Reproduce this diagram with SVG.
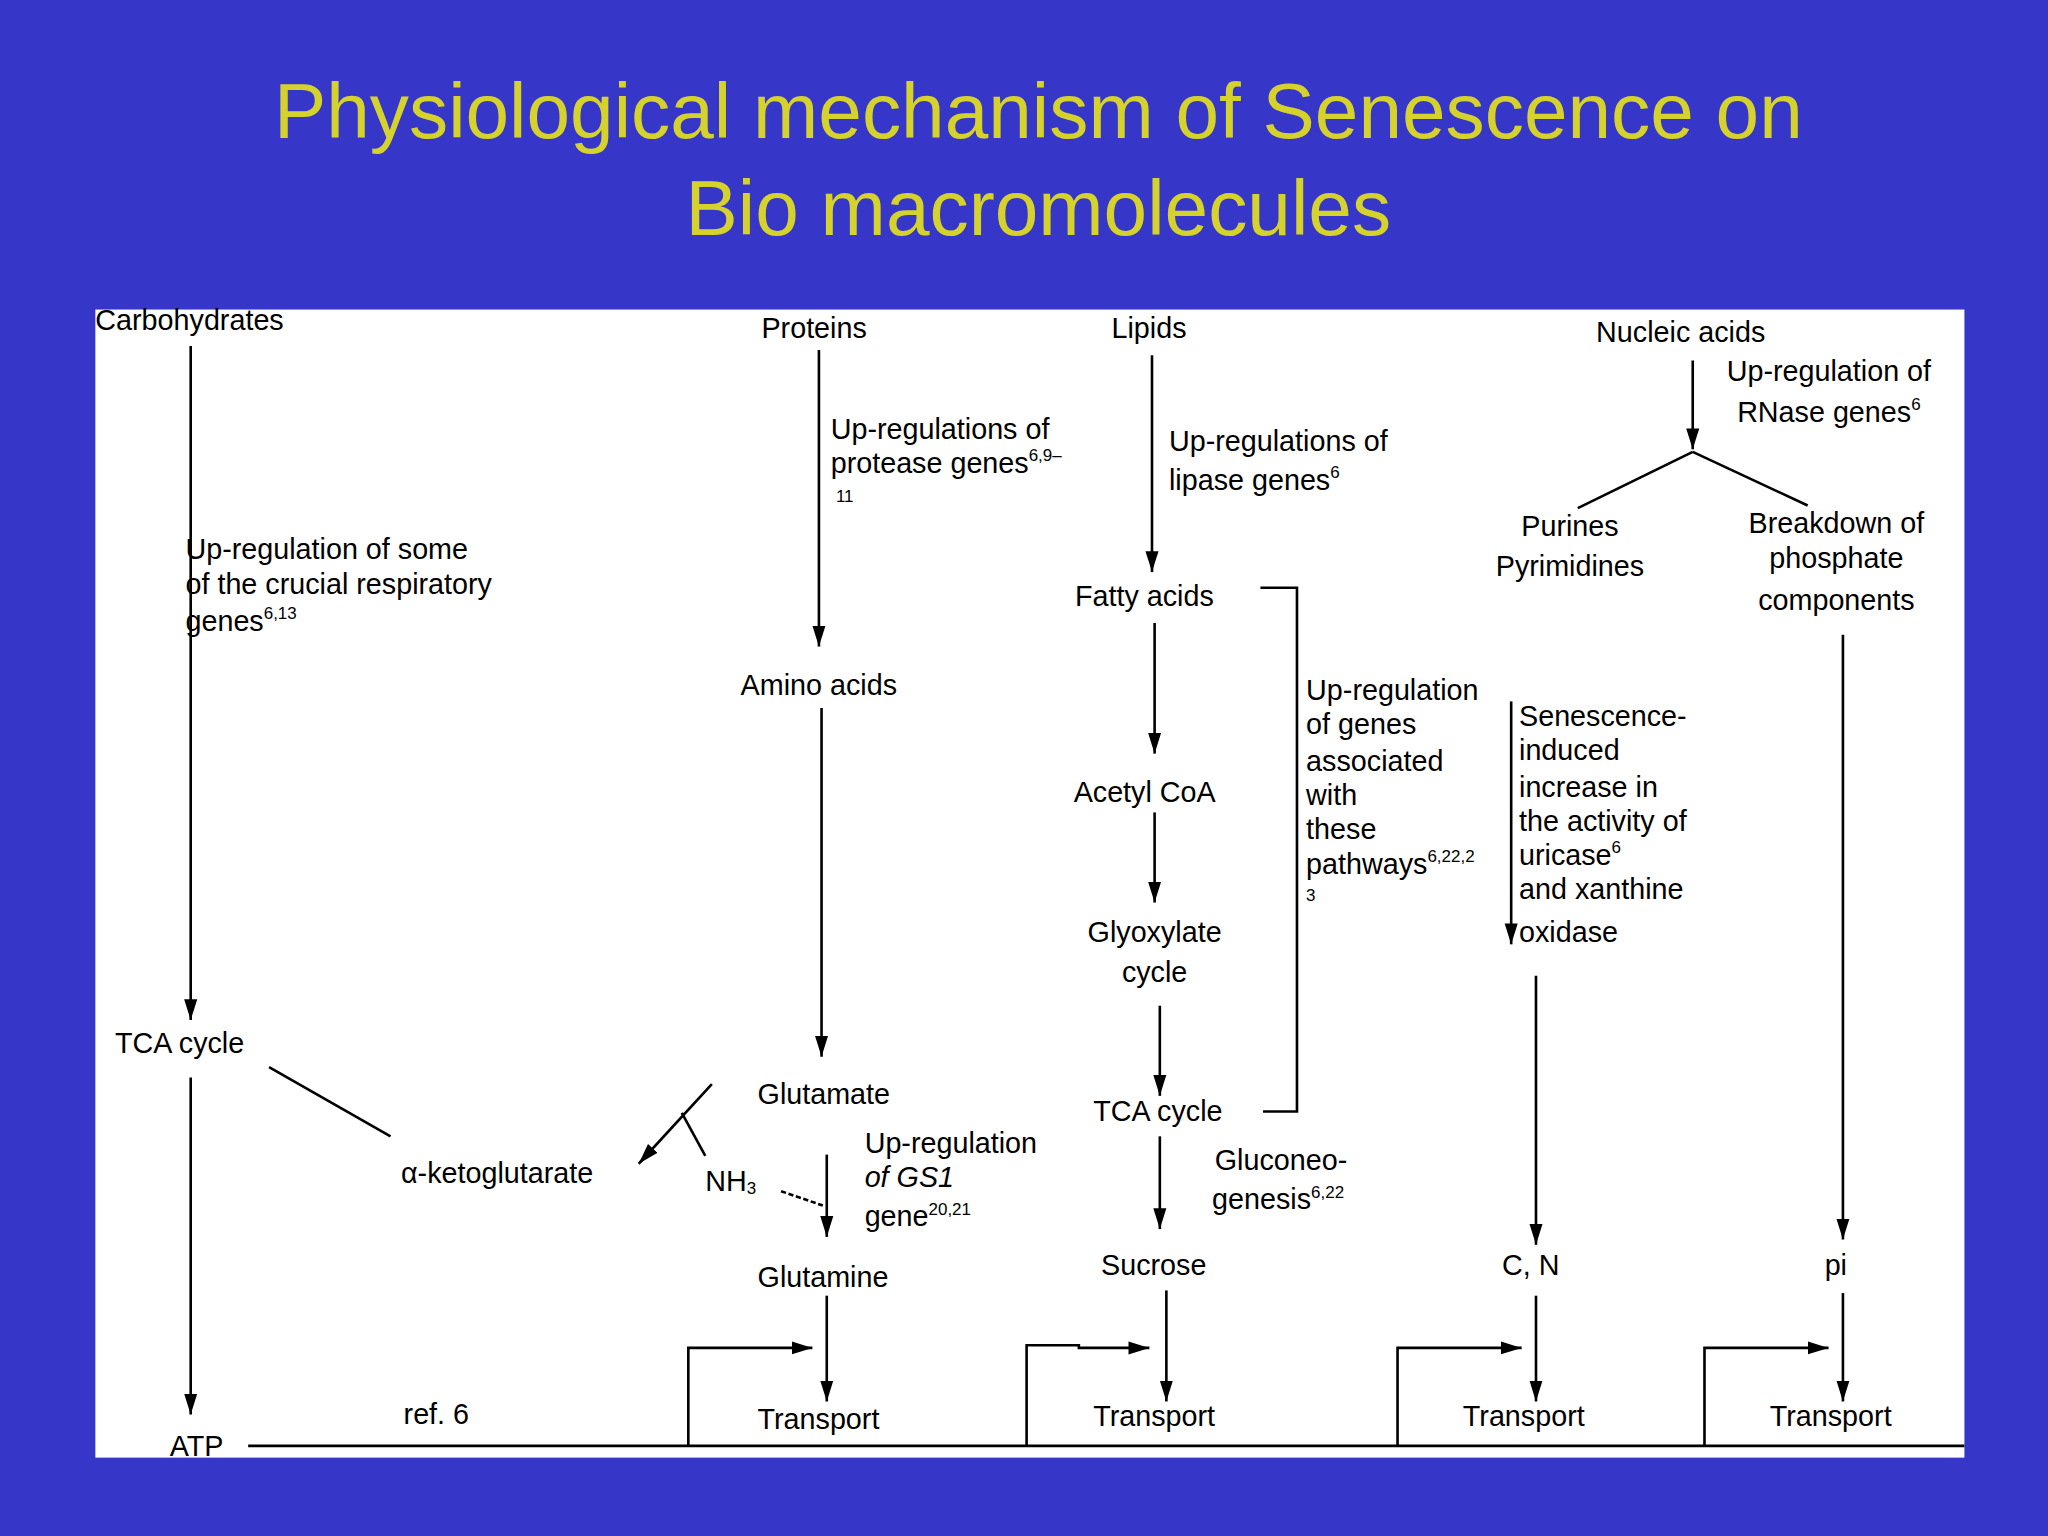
<svg xmlns="http://www.w3.org/2000/svg" width="2048" height="1536" viewBox="0 0 2048 1536">
<defs>
<style>
.t{font-family:"Liberation Sans",Arial,sans-serif;font-size:22px;fill:#000}
.s{font-size:13px}
.ttl{font-family:"Liberation Sans",Arial,sans-serif;font-size:60px;fill:#d6d22c;text-anchor:middle}
.l{stroke:#000;stroke-width:2;fill:none}
</style>
<marker id="ah" markerUnits="userSpaceOnUse" markerWidth="18" markerHeight="12" refX="16" refY="6" orient="auto">
<path d="M0,1 L16,6 L0,11 z" fill="#000"/>
</marker>
</defs>
<rect width="2048" height="1536" fill="#3636c8"/>
<g transform="scale(1.30612)">
<text class="ttl" x="795" y="106">Physiological mechanism of Senescence on</text>
<text class="ttl" x="795" y="180">Bio macromolecules</text>
<rect x="73" y="237" width="1431" height="879" fill="#fff"/>

<g id="connectors">
<line class="l" x1="146" y1="265" x2="146" y2="781" marker-end="url(#ah)"/>
<line class="l" x1="146" y1="825" x2="146" y2="1083" marker-end="url(#ah)"/>
<polyline class="l" points="190,1107 1504,1107"/>
<line class="l" x1="206" y1="817" x2="299" y2="870"/>
<line class="l" x1="545" y1="830" x2="489" y2="891" marker-end="url(#ah)"/>
<line class="l" x1="522" y1="852" x2="540" y2="885"/>
<line class="l" x1="627" y1="268" x2="627" y2="495" marker-end="url(#ah)"/>
<line class="l" x1="629" y1="542" x2="629" y2="809" marker-end="url(#ah)"/>
<line class="l" x1="633" y1="884" x2="633" y2="947" marker-end="url(#ah)"/>
<line class="l" x1="598" y1="912" x2="630" y2="923" stroke-dasharray="4,2"/>
<line class="l" x1="633" y1="992" x2="633" y2="1073" marker-end="url(#ah)"/>
<polyline class="l" points="527,1107 527,1032 622,1032" marker-end="url(#ah)"/>
<line class="l" x1="882" y1="272" x2="882" y2="438" marker-end="url(#ah)"/>
<polyline class="l" points="965,450 993,450 993,851 967,851"/>
<line class="l" x1="884" y1="477" x2="884" y2="577" marker-end="url(#ah)"/>
<line class="l" x1="884" y1="622" x2="884" y2="691" marker-end="url(#ah)"/>
<line class="l" x1="888" y1="770" x2="888" y2="839" marker-end="url(#ah)"/>
<line class="l" x1="888" y1="870" x2="888" y2="941" marker-end="url(#ah)"/>
<line class="l" x1="893" y1="988" x2="893" y2="1073" marker-end="url(#ah)"/>
<polyline class="l" points="786,1107 786,1030 826,1030 826,1032 880,1032" marker-end="url(#ah)"/>
<line class="l" x1="1157" y1="537" x2="1157" y2="723" marker-end="url(#ah)"/>
<line class="l" x1="1176" y1="747" x2="1176" y2="953" marker-end="url(#ah)"/>
<line class="l" x1="1176" y1="992" x2="1176" y2="1073" marker-end="url(#ah)"/>
<polyline class="l" points="1070,1107 1070,1032 1165,1032" marker-end="url(#ah)"/>
<line class="l" x1="1296" y1="276" x2="1296" y2="344" marker-end="url(#ah)"/>
<line class="l" x1="1296" y1="346" x2="1208" y2="389"/>
<line class="l" x1="1296" y1="346" x2="1384" y2="387"/>
<line class="l" x1="1411" y1="486" x2="1411" y2="949" marker-end="url(#ah)"/>
<line class="l" x1="1411" y1="990" x2="1411" y2="1073" marker-end="url(#ah)"/>
<polyline class="l" points="1305,1107 1305,1032 1400,1032" marker-end="url(#ah)"/>
</g>

<g id="carbohydrates"><text class="t" x="73" y="253">Carbohydrates</text></g>
<g id="carb-label"><text class="t" x="142" y="428">Up-regulation of some</text><text class="t" x="142" y="455">of the crucial respiratory</text><text class="t" x="142" y="483">genes<tspan class="s" dy="-9">6,13</tspan></text></g>
<g id="tca1"><text class="t" x="88" y="806">TCA cycle</text></g>
<g id="atp"><text class="t" x="130" y="1115">ATP</text></g>
<g id="ref"><text class="t" x="309" y="1090">ref. 6</text></g>
<g id="akg"><text class="t" x="307" y="906">α-ketoglutarate</text></g>
<g id="proteins"><text class="t" x="583" y="259">Proteins</text></g>
<g id="prot-label"><text class="t" x="636" y="336">Up-regulations of</text><text class="t" x="636" y="362">protease genes<tspan class="s" dy="-9">6,9–</tspan></text><text class="t s" x="640" y="384">11</text></g>
<g id="amino"><text class="t" x="567" y="532">Amino acids</text></g>
<g id="glutamate"><text class="t" x="580" y="845">Glutamate</text></g>
<g id="nh3"><text class="t" x="540" y="912">NH<tspan class="s" dy="2">3</tspan></text></g>
<g id="gs1"><text class="t" x="662" y="883">Up-regulation</text><text class="t" x="662" y="909" font-style="italic">of GS1</text><text class="t" x="662" y="939">gene<tspan class="s" dy="-9">20,21</tspan></text></g>
<g id="glutamine"><text class="t" x="580" y="985">Glutamine</text></g>
<g id="transport1"><text class="t" x="580" y="1094">Transport</text></g>
<g id="lipids"><text class="t" x="851" y="259">Lipids</text></g>
<g id="lip-label"><text class="t" x="895" y="345">Up-regulations of</text><text class="t" x="895" y="375">lipase genes<tspan class="s" dy="-9">6</tspan></text></g>
<g id="fatty"><text class="t" x="823" y="464">Fatty acids</text></g>
<g id="acetyl"><text class="t" x="822" y="614">Acetyl CoA</text></g>
<g id="glyox"><text class="t" x="884" y="721" text-anchor="middle">Glyoxylate</text><text class="t" x="884" y="752" text-anchor="middle">cycle</text></g>
<g id="tca2"><text class="t" x="837" y="858">TCA cycle</text></g>
<g id="gluconeo"><text class="t" x="930" y="896">Gluconeo-</text><text class="t" x="928" y="926">genesis<tspan class="s" dy="-9">6,22</tspan></text></g>
<g id="sucrose"><text class="t" x="843" y="976">Sucrose</text></g>
<g id="transport2"><text class="t" x="837" y="1092">Transport</text></g>
<g id="path-label"><text class="t" x="1000" y="536">Up-regulation</text><text class="t" x="1000" y="562">of genes</text><text class="t" x="1000" y="590">associated</text><text class="t" x="1000" y="616">with</text><text class="t" x="1000" y="642">these</text><text class="t" x="1000" y="669">pathways<tspan class="s" dy="-9">6,22,2</tspan></text><text class="t s" x="1000" y="690">3</text></g>
<g id="sen-label"><text class="t" x="1163" y="556">Senescence-</text><text class="t" x="1163" y="582">induced</text><text class="t" x="1163" y="610">increase in</text><text class="t" x="1163" y="636">the activity of</text><text class="t" x="1163" y="662">uricase<tspan class="s" dy="-9">6</tspan></text><text class="t" x="1163" y="688">and xanthine</text><text class="t" x="1163" y="721">oxidase</text></g>
<g id="cn"><text class="t" x="1150" y="976">C, N</text></g>
<g id="transport3"><text class="t" x="1120" y="1092">Transport</text></g>
<g id="nucleic"><text class="t" x="1222" y="262">Nucleic acids</text></g>
<g id="rnase"><text class="t" x="1322" y="292">Up-regulation of</text><text class="t" x="1330" y="323">RNase genes<tspan class="s" dy="-9">6</tspan></text></g>
<g id="purines"><text class="t" x="1202" y="410" text-anchor="middle">Purines</text><text class="t" x="1202" y="441" text-anchor="middle">Pyrimidines</text></g>
<g id="breakdown"><text class="t" x="1406" y="408" text-anchor="middle">Breakdown of</text><text class="t" x="1406" y="435" text-anchor="middle">phosphate</text><text class="t" x="1406" y="467" text-anchor="middle">components</text></g>
<g id="pi"><text class="t" x="1397" y="976">pi</text></g>
<g id="transport4"><text class="t" x="1355" y="1092">Transport</text></g>
</g>
</svg>
